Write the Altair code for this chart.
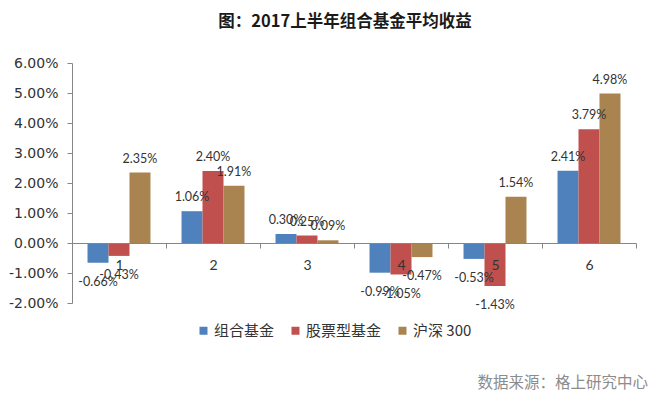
import altair as alt
import pandas as pd

categories = ["1", "2", "3", "4", "5", "6"]
series_names = ["组合基金", "股票型基金", "沪深 300"]
combo_fund = [-0.66, 1.06, 0.30, -0.99, -0.53, 2.41]
stock_fund = [-0.43, 2.40, 0.25, -1.05, -1.43, 3.79]
hs300 = [2.35, 1.91, 0.09, -0.47, 1.54, 4.98]
y_ticks = [-0.02, -0.01, 0.0, 0.01, 0.02, 0.03, 0.04, 0.05, 0.06]
colors = ["#4F81BD", "#C0504D", "#A98451"]
title_text = "图：2017上半年组合基金平均收益"
source_text = "数据来源：格上研究中心"

rows = []
for name, vals in zip(series_names, [combo_fund, stock_fund, hs300]):
    for c, v in zip(categories, vals):
        rows.append({"cat": c, "series": name, "value": v / 100.0})
df = pd.DataFrame(rows)

FONT = "Lato, Noto Sans CJK SC"
CJK = "Noto Sans CJK SC"
MINUS_FIX = "replace(format(datum.value, '.2%'), '\u2212', '-')"

x_enc = alt.X("cat:N", sort=categories,
              scale=alt.Scale(paddingInner=0, paddingOuter=0),
              axis=alt.Axis(title=None, orient="bottom", offset=-60, labelAngle=0,
                            tickBand="extent", domainColor="#868686", tickColor="#868686",
                            tickSize=5, labelPadding=10, labelFontSize=14, labelFont=FONT,
                            labelColor="#333333", zindex=1))
xoff = alt.XOffset("series:N", sort=series_names,
                   scale=alt.Scale(paddingInner=0, paddingOuter=0.74))
y_enc = alt.Y("value:Q", scale=alt.Scale(domain=[-0.02, 0.06], nice=False),
              axis=alt.Axis(title=None, values=y_ticks, format=".2%", grid=False,
                            labelExpr="replace(datum.label, '\u2212', '-')",
                            labelOverlap=False,
                            domainColor="#868686", tickColor="#868686", tickSize=5,
                            labelFontSize=14, labelFont="DejaVu Sans", labelColor="#333333",
                            labelPadding=9))
color_enc = alt.Color("series:N", sort=series_names,
                      scale=alt.Scale(domain=series_names, range=colors),
                      legend=alt.Legend(title=None, orient="none", legendX=124, legendY=260,
                                        direction="horizontal", symbolType="square",
                                        symbolSize=64, symbolStrokeWidth=0,
                                        labelFontSize=15, labelFont=CJK,
                                        labelColor="#333333", columnPadding=13,
                                        labelOffset=3))

base = alt.Chart(df).transform_calculate(label=MINUS_FIX)
bars = base.mark_bar(size=21).encode(x=x_enc, xOffset=xoff, y=y_enc, color=color_enc)

pos_labels = base.transform_filter("datum.value >= 0").mark_text(
    dy=-14, fontSize=12.5, font=FONT, color="#333333", baseline="middle").encode(
    x=x_enc, xOffset=xoff, y=y_enc, text="label:N")
neg_labels = base.transform_filter("datum.value < 0").mark_text(
    dy=19, fontSize=12.5, font=FONT, color="#333333", baseline="middle").encode(
    x=x_enc, xOffset=xoff, y=y_enc, text="label:N")

source = alt.Chart(pd.DataFrame({"t": [source_text]})).mark_text(
    align="right", baseline="middle", fontSize=15.5, font=CJK, color="#8C8C8C").encode(
    text="t:N", x=alt.value(576), y=alt.value(320))

chart = alt.layer(bars, pos_labels, neg_labels, source).properties(
    width=564, height=240,
    autosize=alt.AutoSizeParams(type="none"),
    padding={"left": 64, "top": 55, "right": 16, "bottom": 95},
    title=alt.TitleParams(title_text, fontSize=16.5, fontWeight="bold", font=CJK,
                          color="#1a1a1a", anchor="middle", dx=-9, offset=26),
).configure_view(stroke=None)

chart.save("out.html", embed_options={"renderer": "svg", "actions": False})
